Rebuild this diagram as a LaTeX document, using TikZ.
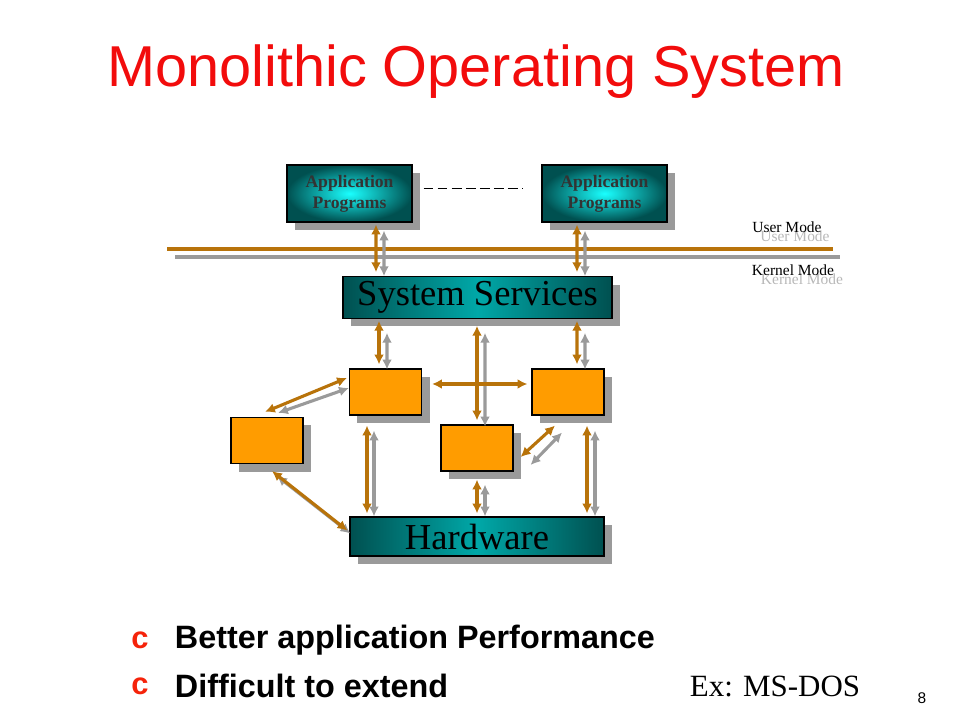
\documentclass[tikz,border=0pt]{standalone}
\usepackage{fontspec}
\setmainfont{Liberation Serif}
\setsansfont{Liberation Sans}
\usetikzlibrary{arrows.meta,calc,shadows}
\definecolor{titlered}{HTML}{F20C0C}
\definecolor{boxorange}{HTML}{FF9C00}
\definecolor{arrorange}{HTML}{B8730A}
\definecolor{arrgray}{HTML}{9A9A9A}
\definecolor{tealdark}{HTML}{005050}
\definecolor{tealmid}{HTML}{00A8A8}
\tikzset{
  px/.style={x=0.025cm, y=-0.025cm},
  shade8/.style={drop shadow={shadow xshift=0.2cm, shadow yshift=-0.2cm, fill=arrgray, opacity=1}},
  app/.style={draw, thick, shade8, inner color=cyan!90, outer color=tealdark,
    minimum width=3.125cm, minimum height=1.425cm, align=center,
    font=\fontsize{12.5}{15}\selectfont\bfseries, text=black!80},
  layer/.style={draw, thick, shade8, left color=tealdark, right color=tealdark, middle color=tealmid,
    minimum height=1cm, font=\fontsize{26}{28}\selectfont},
  module/.style={draw, thick, fill=boxorange, shade8, minimum width=1.8cm, minimum height=1.15cm},
  oarr/.style={draw=arrorange, line width=2.2pt, {Latex[length=7pt,width=7pt]}-{Latex[length=7pt,width=7pt]}},
  garr/.style={draw=arrgray, line width=2.2pt, {Latex[length=7pt,width=7pt]}-{Latex[length=7pt,width=7pt]}},
  bullet/.style={anchor=west, font=\sffamily\bfseries\fontsize{23}{25}\selectfont},
  bulletmark/.style={text=titlered!80!orange, font=\sffamily\bfseries\fontsize{22}{22}\selectfont},
  mode/.style={font=\fontsize{11}{12}\selectfont},
}
\begin{document}
\begin{tikzpicture}[px]
\useasboundingbox (0,0) rectangle (960,720);

% title
\node (title) at (476,72) [text=titlered, font=\sffamily\fontsize{41}{44}\selectfont] {Monolithic Operating System};

% mode lines
\draw[arrgray, line width=3.5pt] (175,257) -- (840,257);
\draw[arrorange, line width=3.5pt] (167,249) -- (833,249);
\node (umg) at (795,236) [mode, text=arrgray!70] {User Mode};
\node (um) at (787,227) [mode] {User Mode};
\node (kmg) at (802,279) [mode, text=arrgray!70] {Kernel Mode};
\node (km) at (793,270) [mode] {Kernel Mode};

% nodes
\node (app1) at (349.5,193.5) [app] {Application\\Programs};
\node (app2) at (604.5,193.5) [app] {Application\\Programs};
\draw[dashed, thick, dash pattern=on 7pt off 3pt] ($(app1.east)+(11,-5)$) coordinate (d1) -- ($(app2.west)+(-18,-5)$) coordinate (d2);
\node (ss) at (477.5,297.5) [layer, minimum width=6.725cm] {System Services};
\node (b1) at (385.5,392) [module] {};
\node (b2) at (568,392) [module] {};
\node (b3) at (267,440.5) [module] {};
\node (b4) at (477,448) [module] {};
\node (hw) at (477,536.5) [layer, minimum width=6.35cm, minimum height=0.975cm] {Hardware};

% connectors
\draw[garr] ($(app1.south)+(34.5,8)$) -- ($(ss.north)+(-93.5,0)$);
\draw[oarr] ($(app1.south)+(26.5,2)$) -- ($(ss.north)+(-101.5,-4)$);
\draw[garr] ($(app2.south)+(-19.5,8)$) -- ($(ss.north)+(107.5,0)$);
\draw[oarr] ($(app2.south)+(-27.5,2)$) -- ($(ss.north)+(99.5,-4)$);
\draw[garr] ($(ss.south)+(-90.5,14)$) -- ($(b1.north)+(1.5,1)$);
\draw[oarr] ($(ss.south)+(-98.5,2)$) -- ($(b1.north)+(-6.5,-4)$);
\draw[garr] ($(ss.south)+(107.5,14)$) -- ($(b2.north)+(17,1)$);
\draw[oarr] ($(ss.south)+(99.5,2)$) -- ($(b2.north)+(9,-4)$);
\draw[garr] ($(ss.south)+(7.5,14)$) -- ($(b4.north)+(8,2)$);
\draw[oarr] ($(ss.south)+(-0.5,7)$) -- ($(b4.north)+(0,-4)$);
\draw[oarr] ($(b1.east)+(10,-8)$) -- ($(b2.west)+(-4,-8)$);
\draw[garr] ($(b1.west)+(0,-4)$) -- ($(b3.north)+(11,-4)$);
\draw[oarr] ($(b1.west)+(-2,-14)$) -- ($(b3.north)+(-2,-5)$);
\draw[garr] ($(b3.south)+(10,12)$) -- ($(hw.west)+(1,-3)$);
\draw[oarr] ($(b3.south)+(5,7)$) -- ($(hw.west)+(-2,-6)$);
\draw[garr] ($(b1.south)+(-11.5,15)$) -- ($(hw.north)+(-103,0)$);
\draw[oarr] ($(b1.south)+(-18.5,10)$) -- ($(hw.north)+(-110,-3)$);
\draw[garr] ($(b4.south)+(8,13)$) -- ($(hw.north)+(8,0)$);
\draw[oarr] ($(b4.south)+(0,8)$) -- ($(hw.north)+(0,-3)$);
\draw[garr] ($(b2.south)+(27,15)$) -- ($(hw.north)+(118,0)$);
\draw[oarr] ($(b2.south)+(19,10)$) -- ($(hw.north)+(110,-3)$);
\draw[garr] ($(b4.east)+(17,17)$) -- ($(b2.south)+(-6,17)$);
\draw[oarr] ($(b4.east)+(7,9)$) -- ($(b2.south)+(-13,10)$);

% bullets
\node (c1) at (140,640) [bulletmark] {c};
\node (t1) at (170,640) [bullet] {Better application Performance};
\node (c2) at (140,686) [bulletmark] {c};
\node (t2) at (170,686) [bullet] {Difficult to extend};
\node (ex) at (775,686) [font=\fontsize{22}{24}\selectfont] {Ex: MS-DOS};
\node (pg) at (922,698) [font=\sffamily\fontsize{11}{12}\selectfont] {8};
\end{tikzpicture}
\end{document}
